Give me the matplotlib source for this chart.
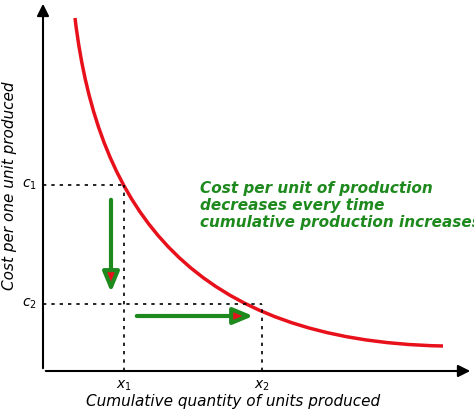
import matplotlib.pyplot as plt
from matplotlib.path import Path
from matplotlib.patches import PathPatch

# curve as a cubic Bezier: start, two control points, end (quantity, cost) in chart units
curve_pts = [(32, 353), (55, 160), (150, 30), (400, 25)]
x_marks = [81, 219]
c_marks = [186, 67]
x_labels = ["$x_1$", "$x_2$"]
c_labels = ["$c_1$", "$c_2$"]

fig = plt.figure(figsize=(4.74, 4.11), dpi=100)
ax = fig.add_axes([0, 0, 1, 1])
ax.set_xlim(-43, 431)
ax.set_ylim(-40, 371)
ax.axis("off")

# axes with arrowheads
ax.annotate("", xy=(0, 370), xytext=(0, 0),
            arrowprops=dict(arrowstyle="-|>", color="black", lw=1.5, mutation_scale=18))
ax.annotate("", xy=(430, 0), xytext=(0, 0),
            arrowprops=dict(arrowstyle="-|>", color="black", lw=1.5, mutation_scale=18))

path = Path(curve_pts, [Path.MOVETO, Path.CURVE4, Path.CURVE4, Path.CURVE4])
ax.add_patch(PathPatch(path, fc="none", ec="#e8101a", lw=2.5))

for xm, cm, xl, cl in zip(x_marks, c_marks, x_labels, c_labels):
    ax.plot([0, xm], [cm, cm], color="black", ls=(0, (2, 3)), lw=1.2)
    ax.plot([xm, xm], [0, cm], color="black", ls=(0, (2, 3)), lw=1.2)
    ax.text(xm, -8, xl, ha="center", va="top", fontsize=10, style="italic")
    ax.text(-6, cm, cl, ha="right", va="center", fontsize=10, style="italic")

green = "#1e8a1e"
props = dict(arrowstyle="-|>,head_width=0.5,head_length=1.2", fc="#e8101a", ec=green, lw=3)
ax.annotate("", xy=(68, 76), xytext=(68, 174), arrowprops=props)
ax.annotate("", xy=(213, 55), xytext=(91, 55), arrowprops=props)

ax.text(157, 190, "Cost per unit of production\ndecreases every time\ncumulative production increases",
        color=green, fontsize=11, style="italic", fontweight="bold", va="top", ha="left",
        linespacing=1.15)

ax.text(190, -23, "Cumulative quantity of units produced", ha="center", va="top",
        fontsize=11, style="italic")
ax.text(-33, 185, "Cost per one unit produced", ha="center", va="center", rotation=90,
        fontsize=11, style="italic")

fig.savefig("out.png", dpi=100)
